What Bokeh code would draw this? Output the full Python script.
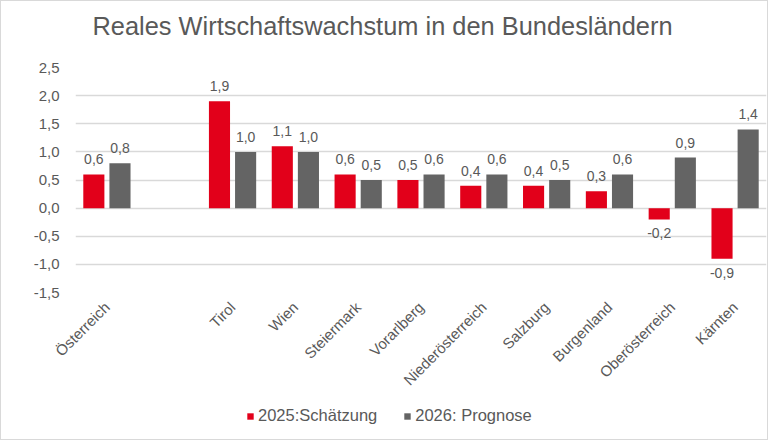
import math
from bokeh.plotting import figure
from bokeh.models import (ColumnDataSource, FactorRange, Range1d, FixedTicker,
                          LabelSet, Label, Legend, LegendItem)
from bokeh.layouts import column
from bokeh.core.properties import value
from bokeh.transform import dodge
from bokeh.embed import file_html
from bokeh.resources import INLINE

# ---- data ----
regions = ["Österreich", "Tirol", "Wien", "Steiermark", "Vorarlberg",
           "Niederösterreich", "Salzburg", "Burgenland", "Oberösterreich", "Kärnten"]
v2025 = [0.6, 1.9, 1.1, 0.6, 0.5, 0.4, 0.4, 0.3, -0.2, -0.9]
v2026 = [0.8, 1.0, 1.0, 0.5, 0.6, 0.6, 0.5, 0.6, 0.9, 1.4]
series_names = ["2025:Schätzung", "2026: Prognose"]
y_ticks = [-1.5, -1.0, -0.5, 0.0, 0.5, 1.0, 1.5, 2.0, 2.5]
y_tick_labels = ["-1,5", "-1,0", "-0,5", "0,0", "0,5", "1,0", "1,5", "2,0", "2,5"]
title_text = "Reales Wirtschaftswachstum in den Bundesländern"

RED = "#e2001a"
GRAY = "#646464"
TXT = "#595959"
FONT = "Liberation Sans"
W = 766

factors = [regions[0], " "] + regions[1:]


def fmt(v):
    return f"{v:.1f}".replace(".", ",")


def make_src(vals):
    pos = dict(x=[], y=[], t=[])
    neg = dict(x=[], y=[], t=[])
    for r, v in zip(regions, vals):
        d = pos if v >= 0 else neg
        d["x"].append(r)
        d["y"].append(v)
        d["t"].append(fmt(v))
    return (ColumnDataSource(dict(x=regions, y=vals)),
            ColumnDataSource(pos), ColumnDataSource(neg))


def blank_fig(h):
    f = figure(width=W, height=h, x_range=Range1d(0, 1), y_range=Range1d(0, 1),
               x_axis_type=None, y_axis_type=None, output_backend="svg",
               toolbar_location=None, min_border=0, title=None)
    f.outline_line_color = None
    return f


# ---- title strip ----
t_fig = blank_fig(50)
t_fig.add_layout(Label(x=17, y=26, x_units="screen", y_units="screen", text=title_text,
                       text_font=FONT, text_font_size="25.4px", text_color=TXT,
                       text_align="left", text_baseline="alphabetic"))

# ---- main chart ----
p = figure(width=W, height=348, x_range=FactorRange(factors=factors, range_padding=0),
           y_range=Range1d(-1.5, 2.5), output_backend="svg", toolbar_location=None,
           title=None, min_border_left=74, min_border_right=1, min_border_top=16,
           min_border_bottom=107)

p.outline_line_color = None
p.xgrid.grid_line_color = None
p.ygrid.grid_line_color = "#d9d9d9"
p.ygrid.grid_line_width = 1.3
p.ygrid.ticker = FixedTicker(ticks=y_ticks)

p.yaxis.ticker = FixedTicker(ticks=y_ticks)
p.yaxis.major_label_overrides = {t: l for t, l in zip(y_ticks, y_tick_labels)}
p.yaxis.axis_line_color = None
p.yaxis.major_tick_line_color = None
p.yaxis.minor_tick_line_color = None
p.yaxis.major_label_text_font = FONT
p.yaxis.major_label_text_font_size = "15px"
p.yaxis.major_label_text_color = TXT
p.yaxis.major_label_standoff = 10

p.xaxis.axis_line_color = None
p.xaxis.major_tick_line_color = None
p.xaxis.major_label_orientation = math.pi / 4
p.xaxis.major_label_text_font = FONT
p.xaxis.major_label_text_font_size = "15px"
p.xaxis.major_label_text_color = TXT
p.xaxis.major_label_standoff = 6

# ---- legend strip ----
l_fig = blank_fig(40)

items = []
for vals, off, col, name in [(v2025, -0.208, RED, series_names[0]),
                              (v2026, 0.208, GRAY, series_names[1])]:
    src, pos, neg = make_src(vals)
    p.vbar(x=dodge("x", off, range=p.x_range), top="y", bottom=0, width=0.336,
           source=src, fill_color=col, line_color=None)
    p.add_layout(LabelSet(x=dodge("x", off, range=p.x_range), y="y", text="t", source=pos,
                          text_align="center", text_baseline="alphabetic", y_offset=10,
                          text_font=value(FONT), text_font_size=value("14px"),
                          text_color=TXT))
    p.add_layout(LabelSet(x=dodge("x", off, range=p.x_range), y="y", text="t", source=neg,
                          text_align="center", text_baseline="top", y_offset=-9,
                          text_font=value(FONT), text_font_size=value("14px"),
                          text_color=TXT))
    # legend swatch renderer (shares the series data, not drawn itself)
    lr = l_fig.vbar(x="y", top="y", width=0.1, source=src, fill_color=col,
                    line_color=None, visible=False)
    items.append(LegendItem(label=name, renderers=[lr]))

legend = Legend(items=items, orientation="horizontal", location=(171, 14),
                label_text_font=FONT, label_text_font_size="16.5px", label_text_color=TXT,
                glyph_width=8, glyph_height=8, label_standoff=4, spacing=26,
                inactive_fill_alpha=0, click_policy="none",
                border_line_color=None, background_fill_alpha=0, padding=0, margin=0)
l_fig.add_layout(legend, "center")

layout = column(t_fig, p, l_fig, spacing=0,
                styles={"border": "1px solid #d9d9d9", "background": "white"})

open("out.html", "w").write(file_html(layout, INLINE))
